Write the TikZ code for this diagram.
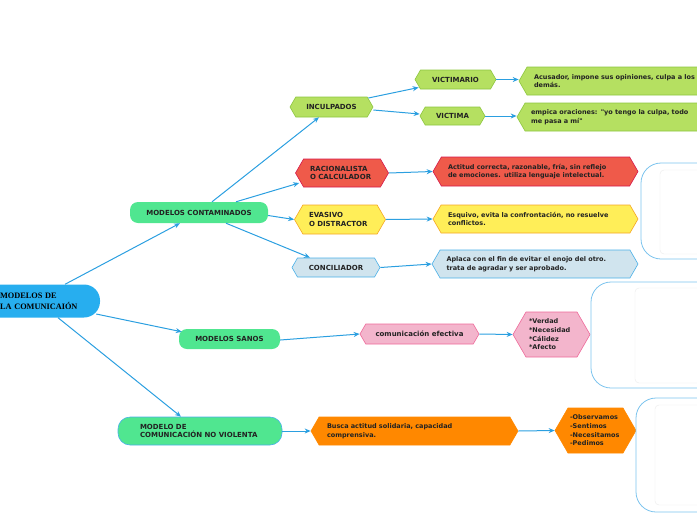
\documentclass[tikz,border=0pt]{standalone}
\usepackage{fontspec}
\usetikzlibrary{shapes.symbols}
\usetikzlibrary{arrows.meta}
\newfontfamily\verd{DejaVu Sans}
\newfontfamily\tnr{Liberation Serif}
\definecolor{rootbg}{HTML}{27AEEF}
\definecolor{modbg}{HTML}{50E690}
\definecolor{leafbg}{HTML}{B5E061}
\definecolor{leafln}{HTML}{8DC63F}
\definecolor{racbg}{HTML}{EF5A4A}
\definecolor{racln}{HTML}{D6184A}
\definecolor{evsbg}{HTML}{FFEE58}
\definecolor{evsln}{HTML}{F5A623}
\definecolor{conbg}{HTML}{D0E4EE}
\definecolor{conln}{HTML}{4AB0E8}
\definecolor{sanbg}{HTML}{F3B5CC}
\definecolor{sanln}{HTML}{EE6A9A}
\definecolor{nvbg}{HTML}{FF8800}
\definecolor{lnk}{HTML}{2B9FE0}
\definecolor{frm}{HTML}{7CC4EE}
\definecolor{ink}{HTML}{222222}
\tikzset{lbl/.style={
  font=\verd\bfseries\fontsize{7}{8.5}\selectfont,
  inner sep=0pt,
  text=ink,
}}
\tikzset{dsc/.style={
  font=\verd\bfseries\fontsize{6.5}{8.7}\selectfont,
  inner sep=0pt,
  align=left,
  text=ink,
}}
\tikzset{modn/.style={
  lbl,
  fill=modbg,
  rounded corners=8pt,
}}
\tikzset{hexn/.style={
  shape=signal,
  signal to=east and west,
  signal pointer angle=120,
  line width=0.6pt,
}}
\tikzset{conn/.style={
  draw=lnk,
  line width=1pt,
  -{Stealth[length=6pt,width=5pt]},
}}
\tikzset{frame/.style={
  draw=frm,
  line width=0.8pt,
  fill=white,
}}

\begin{document}
\begin{tikzpicture}[x=1pt,y=-1pt]

    \useasboundingbox (0,0) rectangle (697,520);
    \clip (0,0) rectangle (697,520);

    %% Root and the three models

    \node[fill=rootbg, rounded corners=16pt, minimum width=120pt,
      minimum height=33pt, text width=80pt, align=left, inner sep=0pt,
      font=\tnr\bfseries\fontsize{8.3}{11}\selectfont]
      (root) at (40,301) {MODELOS DE\\LA COMUNICAIÓN};
    \node[modn, minimum width=138pt, minimum height=21pt]
      (mc) at (199,212.5) {MODELOS CONTAMINADOS};
    \node[modn, minimum width=101pt, minimum height=20pt]
      (ms) at (229.5,339) {MODELOS SANOS};
    \node[modn, draw=conln, line width=0.6pt, rounded corners=12pt,
      minimum width=164pt, minimum height=28pt, text width=120pt,
      align=left] (mnv) at (200,431)
      {MODELO DE\\COMUNICACIÓN NO VIOLENTA};

    \draw[conn] ([xshift=25pt]root.north) -- ([xshift=-19pt]mc.south);
    \draw[conn] ([xshift=-4pt,yshift=-13pt]root.east)
      -- ([xshift=3pt,yshift=-3pt]ms.north west);
    \draw[conn] ([xshift=18pt]root.south) -- ([xshift=-19pt]mnv.north);

    %% Contaminated models

    % Types
    \node[lbl, hexn, fill=leafbg, draw=leafln, minimum width=83pt,
      minimum height=20pt] (inc) at (331.5,107) {INCULPADOS};
    \node[lbl, hexn, fill=leafbg, draw=leafln, minimum width=81pt,
      minimum height=19pt] (vmario) at (455.5,79.5) {VICTIMARIO};
    \node[lbl, hexn, fill=leafbg, draw=leafln, minimum width=65pt,
      minimum height=18pt] (vma) at (452.5,116) {VICTIMA};
    \node[lbl, hexn, fill=racbg, draw=racln, minimum width=93pt,
      minimum height=28pt, text width=64pt, align=left]
      (rac) at (342,173) {RACIONALISTA\\O\ CALCULADOR};
    \node[lbl, hexn, fill=evsbg, draw=evsln, minimum width=91pt,
      minimum height=29pt, text width=62pt, align=left]
      (evs) at (340,219.5) {EVASIVO\\O DISTRACTOR};
    \node[lbl, hexn, fill=conbg, draw=conln, minimum width=88pt,
      minimum height=19pt] (con) at (336,267.5) {CONCILIADOR};

    % Descriptions
    \node[dsc, hexn, fill=leafbg, draw=leafln, minimum width=241pt,
      minimum height=28pt, text width=211pt] (dvmario) at (639.5,81)
      {Acusador, impone sus opiniones, culpa a los\\demás.};
    \node[dsc, hexn, fill=leafbg, draw=leafln, minimum width=243pt,
      minimum height=28pt, text width=215pt] (dvma) at (638.5,117)
      {empica oraciones: "yo tengo la culpa, todo\\me pasa a mí"};
    \node[dsc, hexn, fill=racbg, draw=racln, minimum width=205pt,
      minimum height=29pt, text width=175pt] (drac) at (535.5,171.5)
      {Actitud correcta, razonable, fría, sin reflejo\\de emociones. utiliza lenguaje intelectual.};
    \node[dsc, hexn, fill=evsbg, draw=evsln, minimum width=205pt,
      minimum height=28pt, text width=175pt] (devs) at (535.5,219)
      {Esquivo, evita la confrontación, no resuelve\\conflictos.};
    \node[dsc, hexn, fill=conbg, draw=conln, minimum width=206pt,
      minimum height=28pt, text width=177pt] (dcon) at (535,264)
      {Aplaca con el fin de evitar el enojo del otro.\\trata de agradar y ser aprobado.};

    % Links
    \draw[conn] ([xshift=13pt]mc.north) -- ([xshift=-12.5pt]inc.south);
    \draw[conn] ([xshift=37pt]mc.north)
      -- ([xshift=4pt,yshift=-10pt]rac.west);
    \draw[conn] ([yshift=-3pt]mc.east) -- (evs.west);
    \draw[conn] ([xshift=27pt]mc.south) -- ([xshift=-26pt]con.north);
    \draw[conn] ([xshift=-5pt,yshift=9pt]inc.east)
      -- ([xshift=4pt,yshift=-8pt]vmario.west);
    \draw[conn] ([yshift=-3pt]inc.east) -- ([yshift=2pt]vma.west);
    \draw[conn] (vmario.east) -- (vmario.east -| dvmario.west);
    \draw[conn] (vma.east) -- (vma.east -| dvma.west);
    \draw[conn] (rac.east) -- (drac.west);
    \draw[conn] (evs.east) -- (devs.west);
    \draw[conn] (con.east) -- (dcon.west);

    %% Healthy and non violent models

    \node[lbl, hexn, fill=sanbg, draw=sanln, minimum width=119pt,
      minimum height=20pt] (ce) at (419.5,334) {comunicación efectiva};
    \node[dsc, hexn, fill=sanbg, draw=sanln, minimum width=77pt,
      minimum height=45pt, text width=45pt] (virt) at (551.5,334.5)
      {{*}Verdad\\{*}Necesidad\\{*}Cálidez\\{*}Afecto};
    \node[dsc, hexn, fill=nvbg, draw=nvbg, minimum width=207pt,
      minimum height=28pt, text width=175pt] (dnv) at (414.5,431)
      {Busca actitud solidaria, capacidad\\comprensiva.};
    \node[dsc, hexn, fill=nvbg, draw=nvbg, minimum width=81pt,
      minimum height=45pt, text width=51pt] (pasos) at (595.5,430.5)
      {-Observamos\\-Sentimos\\-Necesitamos\\-Pedimos};

    \draw[conn] ([yshift=-1pt]ms.east) -- (ce.west);
    \draw[conn] (ce.east) -- (virt.west);
    \draw[conn] (mnv.east) -- (dnv.west);
    \draw[conn] (dnv.east) -- (pasos.west);

    %% Empty frames on the right

    \draw[frame, rounded corners=20pt] (641,163) rectangle (730,259);
    \draw[draw=black!8, fill=white, rounded corners=4pt]
      (660,170) rectangle (730,254);
    \draw[frame, rounded corners=20pt] (591,282) rectangle (730,388);
    \draw[draw=black!8, fill=white, rounded corners=4pt]
      (635,288) rectangle (730,383);
    \draw[frame, rounded corners=20pt] (636,398) rectangle (730,512);
    \draw[draw=black!8, fill=white, rounded corners=4pt]
      (655,405) rectangle (730,505);

  \end{tikzpicture}
\end{document}
